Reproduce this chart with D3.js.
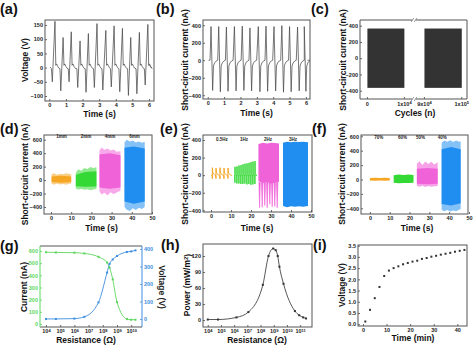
<!DOCTYPE html>
<html>
<head>
<meta charset="utf-8">
<script src="https://cdn.jsdelivr.net/npm/d3@7"></script>
<style>
body { margin: 0; background: #fff; }
svg { display: block; font-family: "Liberation Sans", Arial, sans-serif; }
</style>
</head>
<body>
<script>
// ---------- data ----------

// (a) open-circuit voltage: each cycle = negative spike then positive spike
var aNegT = [0.18, 0.69, 1.19, 1.71, 2.21, 2.71, 3.22, 3.73, 4.24, 4.76, 5.27, 5.77];
var aNegV = [-50, -82, -50, -70, -87, -70, -79, -68, -85, -98, -92, -61];
var aPosT = [0.34, 0.83, 1.32, 1.85, 2.35, 2.87, 3.40, 3.90, 4.40, 4.90, 5.42, 5.93];
var aPosV = [163, 106, 126, 94, 120, 155, 131, 147, 138, 106, 124, 152];

// (b) short-circuit current peaks
var bPosT = [0.20, 0.67, 1.14, 1.63, 2.11, 2.58, 3.09, 3.56, 4.05, 4.53, 5.00, 5.49, 5.90];
var bPosV = [385, 385, 380, 385, 390, 370, 385, 390, 385, 395, 385, 380, 385];
var bNegV = [-345, -360, -355, -350, -345, -350, -360, -355, -350, -365, -360, -350, -355];

// (c) stability test: current envelope over two cycle windows
var cWindow1 = [0, 1e4];
var cWindow2 = [9e4, 1e5];
var cEnvelope = [365, -365];
var cTickLabels = [["0", null], ["1x10", "4"], ["9x10", "4"], ["1x10", "5"]];

// (d) gap distance groups: [time, upper, lower]
var dLabels = ["1mm", "2mm", "4mm", "6mm"];
var d1Outer = [[0.3, 85, -55], [1.5, 100, -70], [3, 80, -50], [4.5, 95, -65], [6, 88, -58], [7.5, 100, -68], [9, 92, -55], [10, 85, -50]];
var d1Inner = [[0.3, 55, -30], [5, 65, -40], [10, 55, -30]];
var d2Outer = [[12.3, 110, -125], [13.5, 160, -140], [15, 140, -130], [16.5, 180, -145], [18, 165, -135], [19.5, 195, -150], [21, 180, -140], [22.5, 190, -130]];
var d2Inner = [[12.3, 80, -90], [17, 120, -100], [22.5, 130, -95]];
var d3Outer = [[24, 440, -170], [25, 485, -215], [26.5, 450, -190], [28, 470, -230], [29.5, 440, -180], [31, 455, -210], [32.5, 420, -185], [34.4, 430, -160]];
var d3Inner = [[24, 380, -110], [29, 400, -130], [34.4, 370, -110]];
var d4Outer = [[36.4, 560, -400], [37.5, 600, -440], [39, 575, -460], [40.5, 590, -420], [42, 560, -445], [43.5, 575, -410], [45, 555, -430], [46.4, 570, -400]];
var d4Inner = [[36.4, 480, -320], [41, 500, -350], [46.4, 470, -320]];

// (e) frequency groups
var eLabels = ["0.5Hz", "1Hz", "2Hz", "3Hz"];
var e05T = [0.7, 2.5, 4.5, 6.5, 8.5];
var e05Hi = [85, 80, 85, 80, 82];
var e05Lo = [-40, -38, -42, -40, -38];
var e1T = [12, 13, 14, 15, 16, 17, 18, 19, 20, 21, 22];
var e1Hi = [95, 100, 110, 115, 125, 130, 135, 140, 150, 155, 160];
var e1Lo = [-85, -95, -95, -100, -100, -95, -105, -100, -110, -105, -100];
var e2Outer = [[23.7, 355, -70], [26, 370, -90], [28, 360, -80], [30, 370, -95], [32, 365, -85], [34, 360, -75]];
var e2DownT = [24.3, 25.6, 26.9, 28.1, 29.4, 30.6, 31.9, 33.1];
var e2DownV = [-370, -365, -345, -370, -330, -360, -355, -372];
var e3Outer = [[36, 370, -350], [38, 380, -365], [40, 375, -355], [42, 380, -360], [44, 378, -355], [46, 380, -360], [48.5, 375, -350]];

// (f) humidity groups
var fLabels = ["70%", "60%", "50%", "40%"];
var f1Outer = [[0, 20, -15], [2.5, 24, -18], [5, 20, -14], [7.5, 25, -17], [10, 20, -15]];
var f2Outer = [[12, 60, -45], [14.5, 68, -52], [17, 62, -48], [19.5, 70, -50], [22, 62, -45]];
var f3Outer = [[23.7, 220, -90], [25, 255, -100], [26.5, 200, -85], [28, 250, -105], [29.5, 215, -90], [31, 245, -100], [32.5, 210, -95], [34.2, 240, -90]];
var f3Inner = [[23.7, 150, -60], [29, 160, -65], [34.2, 150, -60]];
var f4Outer = [[36.2, 510, -420], [37.5, 540, -440], [39, 525, -425], [40.5, 545, -445], [42, 520, -430], [43.5, 540, -440], [45, 525, -420], [45.8, 530, -410]];
var f4Inner = [[36.2, 420, -340], [41, 450, -360], [45.8, 420, -330]];

// (g) current / voltage vs load resistance
var gR = [1e4, 5e4, 1e6, 5e6, 5e7, 2e8, 3e8, 5e8, 1e9, 5e9, 1e10, 2e10];
var gCurrent = [590, 588, 586, 580, 552, 505, 463, 367, 180, 40, 35, 35];
var gVoltage = [0, 0, 2, 12, 95, 265, 315, 340, 360, 383, 386, 392];

// (h) power density vs load resistance
var hR = [1e4, 6e4, 1.5e6, 1.2e7, 1.5e8, 4e8, 9e8, 1.4e9, 2e9, 2.7e9, 5.5e9, 4e10, 8.5e10, 1.7e11, 2.8e11];
var hP = [1, 1, 5, 15, 66, 120, 134, 131, 120, 100, 68, 17, 9, 5, 3];

// (i) capacitor charging
var iTime = [1, 3, 5, 7, 9, 11, 13, 15, 17, 19, 21, 23, 25, 27, 29, 31, 33, 35, 37, 39, 41, 43];
var iVolt = [0.12, 0.64, 1.16, 1.66, 2.15, 2.39, 2.5, 2.58, 2.67, 2.73, 2.79, 2.83, 2.91, 2.95, 3.01, 3.05, 3.1, 3.14, 3.18, 3.23, 3.27, 3.31];

var orange = "#F5A623", green = "#35D935", pink = "#F062D8", blue = "#1F8EF0";
var gGreen = "#5CD65C", gBlue = "#3D8FE0";
var ink = "#4a4a4a";
var tickFont = "5.5px", titleFont = "8.5px";

// ---------- helpers ----------
var svg = d3.select("body").append("svg").attr("width", 474).attr("height", 347);

function makePanel(o) {
    var x = (o.log ? d3.scaleLog() : d3.scaleLinear()).domain(o.xd).range([o.x0, o.x1]);
    var y = d3.scaleLinear().domain(o.yd).range([o.y1, o.y0]);
    var id = "clip" + o.name;
    svg.append("clipPath").attr("id", id).append("rect")
        .attr("x", o.x0).attr("y", o.y0).attr("width", o.x1 - o.x0).attr("height", o.y1 - o.y0);
    var plot = svg.append("g").attr("clip-path", "url(#" + id + ")");
    return { x: x, y: y, plot: plot, o: o };
}

function styleAxis(sel, color) {
    sel.select(".domain").remove();
    sel.selectAll(".tick line").attr("stroke", color || "#444").attr("stroke-width", 0.8);
    sel.selectAll(".tick text").attr("fill", color || "#222")
        .style("font-size", tickFont).style("font-weight", "bold").style("font-family", "inherit");
}

function powLabels(sel) {
    sel.selectAll(".tick text").each(function (d) {
        var t = d3.select(this).text("");
        t.append("tspan").text("10");
        t.append("tspan").attr("dy", "-0.45em").style("font-size", "4px").text(Math.round(Math.log10(d)));
    });
}

// ticks point inward, like the Origin frames in the picture
function axes(p, xt, yt, opts) {
    opts = opts || {};
    var o = p.o;
    var gx = svg.append("g").attr("transform", "translate(0," + o.y1 + ")")
        .call(d3.axisBottom(p.x).tickValues(xt).tickSize(-2).tickPadding(2.5).tickFormat(opts.xfmt || d3.format("d")));
    styleAxis(gx);
    if (o.log) powLabels(gx);
    var gy = svg.append("g").attr("transform", "translate(" + o.x0 + ",0)")
        .call(d3.axisLeft(p.y).tickValues(yt).tickSize(-2).tickPadding(2).tickFormat(opts.yfmt || d3.format("d")));
    styleAxis(gy, opts.ycolor);
    return { gx: gx, gy: gy };
}

function frame(o, color) {
    svg.append("rect").attr("x", o.x0).attr("y", o.y0).attr("width", o.x1 - o.x0).attr("height", o.y1 - o.y0)
        .attr("fill", "none").attr("stroke", color || "#555").attr("stroke-width", 1);
}

function panelLabel(txt, x, y) {
    svg.append("text").attr("x", x).attr("y", y).text(txt)
        .style("font-size", "14.5px").style("font-weight", "bold").attr("fill", "#111");
}

function xTitle(txt, x, y) {
    return svg.append("text").attr("x", x).attr("y", y).attr("text-anchor", "middle").text(txt)
        .style("font-size", titleFont).style("font-weight", "bold").attr("fill", "#111");
}

function yTitle(txt, x, y, color, rot) {
    return svg.append("text").attr("transform", "translate(" + x + "," + y + ") rotate(" + (rot || -90) + ")")
        .attr("text-anchor", "middle").attr("dy", "0.35em").text(txt)
        .style("font-size", titleFont).style("font-weight", "bold").attr("fill", color || "#111");
}

function band(p, data, color, op) {
    var area = d3.area().x(function (d) { return p.x(d[0]); })
        .y0(function (d) { return p.y(d[2]); }).y1(function (d) { return p.y(d[1]); });
    p.plot.append("path").datum(data).attr("d", area).attr("fill", color).attr("opacity", op);
}

function groupLabels(p, labels, times, yv) {
    labels.forEach(function (l, i) {
        svg.append("text").attr("x", p.x(times[i])).attr("y", p.y(yv)).attr("text-anchor", "middle").text(l)
            .style("font-size", "4.5px").style("font-weight", "bold").attr("fill", "#222");
    });
}

var line = function (p) {
    return d3.line().x(function (d) { return p.x(d[0]); }).y(function (d) { return p.y(d[1]); });
};

// ---------- (a) ----------
var pa = makePanel({ name: "a", x0: 45, x1: 154, y0: 20, y1: 101, xd: [-0.26, 6.3], yd: [-117.6, 167.6] });
var aPts = [[0.04, 2]];
aPosT.forEach(function (t, i) {
    aPts.push([aNegT[i] - 0.05, -4], [aNegT[i], aNegV[i]], [t, aPosV[i]], [t + 0.05, 8], [t + 0.1, 13], [t + 0.17, 4], [t + 0.25, -3]);
});
aPts.push([6.02, 8]);
pa.plot.append("path").datum(aPts).attr("d", line(pa)).attr("fill", "none").attr("stroke", ink).attr("stroke-width", 0.75);
axes(pa, [0, 1, 2, 3, 4, 5, 6], [-100, -50, 0, 50, 100, 150]);
frame(pa.o);
panelLabel("(a)", 0, 14);
yTitle("Voltage (V)", 25.5, 60);
xTitle("Time (s)", 99.5, 117);

// ---------- (b) ----------
var pb = makePanel({ name: "b", x0: 203, x1: 310, y0: 20, y1: 99, xd: [-0.29, 6.25], yd: [-443, 460] });
var bPts = [[0.05, 0], [0.14, 0]];
bPosT.forEach(function (t, i) {
    bPts.push([t, bPosV[i]], [t + 0.1, bNegV[i]], [t + 0.15, -65], [t + 0.22, -30], [t + 0.32, -8], [t + 0.41, 0]);
});
bPts.push([6.1, 0]);
pb.plot.append("path").datum(bPts).attr("d", line(pb)).attr("fill", "none").attr("stroke", ink).attr("stroke-width", 0.75);
axes(pb, [0, 1, 2, 3, 4, 5, 6], [-400, -200, 0, 200, 400]);
frame(pb.o);
panelLabel("(b)", 156, 14);
yTitle("Short-circuit current (nA)", 185, 60);
xTitle("Time (s)", 256.5, 116);

// ---------- (c) broken axis ----------
var co = { x0: 360, x1: 467, y0: 20, y1: 99, xbreak: 414 };
var cy = d3.scaleLinear().domain([-502, 470]).range([co.y1, co.y0]);
var cx1 = d3.scaleLinear().domain([-0.2e4, 1.26e4]).range([co.x0, co.xbreak]);
var cx2 = d3.scaleLinear().domain([8.72e4, 10.14e4]).range([co.xbreak, co.x1]);
[[cx1, cWindow1], [cx2, cWindow2]].forEach(function (s) {
    svg.append("rect").attr("x", s[0](s[1][0])).attr("width", s[0](s[1][1]) - s[0](s[1][0]))
        .attr("y", cy(cEnvelope[0])).attr("height", cy(cEnvelope[1]) - cy(cEnvelope[0]))
        .attr("fill", "#333");
});
var cgy = svg.append("g").attr("transform", "translate(" + co.x0 + ",0)")
    .call(d3.axisLeft(cy).tickValues([-400, -200, 0, 200, 400]).tickSize(-2).tickPadding(2));
styleAxis(cgy);
var cTickX = [cx1(0), cx1(1e4), cx2(9e4), cx2(1e5)];
cTickX.forEach(function (px, i) {
    svg.append("line").attr("x1", px).attr("x2", px).attr("y1", co.y1).attr("y2", co.y1 - 2).attr("stroke", "#444").attr("stroke-width", 0.8);
    var t = svg.append("text").attr("x", px).attr("y", co.y1 + 6.5).attr("text-anchor", "middle")
        .style("font-size", tickFont).style("font-weight", "bold").attr("fill", "#222");
    t.append("tspan").text(cTickLabels[i][0]);
    if (cTickLabels[i][1]) t.append("tspan").attr("dy", "-0.45em").style("font-size", "4px").text(cTickLabels[i][1]);
});
// frame with a gap at the break
[[co.x0, co.xbreak - 2], [co.xbreak + 2, co.x1]].forEach(function (s) {
    svg.append("path").attr("d", "M" + s[0] + "," + co.y0 + "H" + s[1] + "M" + s[0] + "," + co.y1 + "H" + s[1])
        .attr("stroke", "#555").attr("stroke-width", 1);
});
svg.append("path").attr("d", "M" + co.x0 + "," + co.y0 + "V" + co.y1 + "M" + co.x1 + "," + co.y0 + "V" + co.y1)
    .attr("stroke", "#555").attr("stroke-width", 1);
[co.y0, co.y1].forEach(function (yy) {
    [-1.5, 1.5].forEach(function (dx) {
        svg.append("line").attr("x1", co.xbreak + dx - 1.2).attr("x2", co.xbreak + dx + 1.2)
            .attr("y1", yy + 1.8).attr("y2", yy - 1.8).attr("stroke", "#555").attr("stroke-width", 0.7);
    });
});
panelLabel("(c)", 311, 14);
yTitle("Short-circuit current (nA)", 343, 60);
xTitle("Cycles (n)", 415, 116);

// ---------- (d) ----------
var pd = makePanel({ name: "d", x0: 44, x1: 152, y0: 135, y1: 214, xd: [-3.45, 50], yd: [-504, 670] });
[[d1Outer, d1Inner, orange], [d2Outer, d2Inner, green], [d3Outer, d3Inner, pink], [d4Outer, d4Inner, blue]].forEach(function (g) {
    band(pd, g[0], g[2], 0.55);
    band(pd, g[1], g[2], 1);
});
axes(pd, [0, 10, 20, 30, 40, 50], [-400, -200, 0, 200, 400, 600]);
frame(pd.o);
groupLabels(pd, dLabels, [5.2, 17.4, 29.2, 41.4], 620);
panelLabel("(d)", 0, 134);
yTitle("Short-circuit current (nA)", 25, 174.5);
xTitle("Time (s)", 101.5, 231);

// ---------- (e) ----------
var pe = makePanel({ name: "e", x0: 203, x1: 312, y0: 135, y1: 212, xd: [-4, 50.5], yd: [-419, 457] });
var e05Pts = [[0.1, 0]];
e05T.forEach(function (t, i) {
    e05Pts.push([t - 0.1, -5], [t - 0.03, e05Lo[i]], [t, e05Hi[i]], [t + 0.2, 25], [t + 1.1, 5], [t + 1.8, -3]);
});
e05Pts.push([10, 0]);
pe.plot.append("path").datum(e05Pts).attr("d", line(pe)).attr("fill", "none").attr("stroke", orange).attr("stroke-width", 1);
var e1Pts = [[11.7, 0]];
e1T.forEach(function (t, i) {
    e1Pts.push([t - 0.1, 0], [t - 0.04, e1Lo[i]], [t, e1Hi[i]], [t + 0.08, 15], [t + 0.5, 5], [t + 0.8, -10]);
});
pe.plot.append("path").datum(e1Pts).attr("d", line(pe)).attr("fill", "none").attr("stroke", green).attr("stroke-width", 1);
band(pe, e2Outer, pink, 1);
e2DownT.forEach(function (t, i) {
    pe.plot.append("path").datum([[t - 0.35, -80], [t, e2DownV[i]], [t + 0.35, -80]])
        .attr("d", line(pe)).attr("fill", pink).attr("stroke", pink).attr("stroke-width", 0.6);
});
band(pe, e3Outer, blue, 1);
axes(pe, [0, 10, 20, 30, 40, 50], [-400, -200, 0, 200, 400]);
frame(pe.o);
groupLabels(pe, eLabels, [5.5, 16.5, 28.5, 41], 390);
panelLabel("(e)", 160, 134);
yTitle("Short-circuit current (nA)", 185, 174);
xTitle("Time (s)", 257, 231);

// ---------- (f) ----------
var pf = makePanel({ name: "f", x0: 361, x1: 468, y0: 135, y1: 214, xd: [-4.5, 49.5], yd: [-479, 618] });
band(pf, f1Outer, orange, 1);
band(pf, f2Outer, green, 1);
band(pf, f3Outer, pink, 0.6);
band(pf, f3Inner, pink, 1);
band(pf, f4Outer, blue, 0.55);
band(pf, f4Inner, blue, 1);
axes(pf, [0, 10, 20, 30, 40, 50], [-400, -200, 0, 200, 400, 600]);
frame(pf.o);
groupLabels(pf, fLabels, [4.5, 16.5, 25.5, 36.5], 560);
panelLabel("(f)", 312, 134);
yTitle("Short-circuit current (nA)", 342, 174);
xTitle("Time (s)", 417, 231);

// ---------- (g) ----------
var pg = makePanel({ name: "g", x0: 40, x1: 142, y0: 246, y1: 327, xd: [Math.pow(10, 3.58), Math.pow(10, 10.76)], yd: [-25, 641], log: true });
var gyR = d3.scaleLinear().domain([-46, 417]).range([pg.o.y1, pg.o.y0]);
var gCurPts = gR.map(function (r, i) { return [r, gCurrent[i]]; });
var gVolPts = gR.map(function (r, i) { return [r, gVoltage[i]]; });
var gLineC = d3.line().x(function (d) { return pg.x(d[0]); }).y(function (d) { return pg.y(d[1]); }).curve(d3.curveMonotoneX);
var gLineV = d3.line().x(function (d) { return pg.x(d[0]); }).y(function (d) { return gyR(d[1]); }).curve(d3.curveMonotoneX);
pg.plot.append("path").datum(gCurPts).attr("d", gLineC).attr("fill", "none").attr("stroke", gGreen).attr("stroke-width", 0.9);
pg.plot.append("path").datum(gVolPts).attr("d", gLineV).attr("fill", "none").attr("stroke", gBlue).attr("stroke-width", 0.9);
pg.plot.selectAll(".gc").data(gCurPts).enter().append("rect")
    .attr("x", function (d) { return pg.x(d[0]) - 1; }).attr("y", function (d) { return pg.y(d[1]) - 1; })
    .attr("width", 2).attr("height", 2).attr("fill", gGreen);
pg.plot.selectAll(".gv").data(gVolPts).enter().append("rect")
    .attr("x", function (d) { return pg.x(d[0]) - 1; }).attr("y", function (d) { return gyR(d[1]) - 1; })
    .attr("width", 2).attr("height", 2).attr("fill", gBlue);
axes(pg, [1e4, 1e5, 1e6, 1e7, 1e8, 1e9, 1e10], [0, 100, 200, 300, 400, 500, 600], { ycolor: gGreen });
var gyr = svg.append("g").attr("transform", "translate(" + pg.o.x1 + ",0)")
    .call(d3.axisRight(gyR).tickValues([0, 100, 200, 300, 400]).tickSize(-2).tickPadding(2));
styleAxis(gyr, gBlue);
svg.append("path").attr("d", "M40,246H142M40,327H142").attr("stroke", "#555").attr("stroke-width", 1);
svg.append("path").attr("d", "M40,246V327").attr("stroke", gGreen).attr("stroke-width", 1);
svg.append("path").attr("d", "M142,246V327").attr("stroke", gBlue).attr("stroke-width", 1);
panelLabel("(g)", 0, 251);
yTitle("Current (nA)", 24.5, 287);
yTitle("Voltage (V)", 162, 287, "#222", 90);
xTitle("Resistance (\u03A9)", 86, 343);

// ---------- (h) ----------
var ph = makePanel({ name: "h", x0: 203, x1: 312, y0: 244, y1: 327, xd: [Math.pow(10, 3.64), Math.pow(10, 11.9)], yd: [-13, 142.5], log: true });
var hPts = hR.map(function (r, i) { return [r, hP[i]]; });
ph.plot.append("path").datum(hPts)
    .attr("d", d3.line().x(function (d) { return ph.x(d[0]); }).y(function (d) { return ph.y(d[1]); }).curve(d3.curveMonotoneX))
    .attr("fill", "none").attr("stroke", "#444").attr("stroke-width", 0.9);
ph.plot.selectAll(".hp").data(hPts).enter().append("rect")
    .attr("x", function (d) { return ph.x(d[0]) - 1; }).attr("y", function (d) { return ph.y(d[1]) - 1; })
    .attr("width", 2).attr("height", 2).attr("fill", "#333");
axes(ph, [1e4, 1e5, 1e6, 1e7, 1e8, 1e9, 1e10, 1e11], [0, 30, 60, 90, 120]);
frame(ph.o);
panelLabel("(h)", 161, 250);
var ht = yTitle("", 187, 285);
ht.append("tspan").text("Power (mW/m");
ht.append("tspan").attr("dy", "-0.4em").style("font-size", "6px").text("2");
ht.append("tspan").attr("dy", "0.4em").text(")");
xTitle("Resistance (\u03A9)", 257, 343);

// ---------- (i) ----------
var pi = makePanel({ name: "i", x0: 358, x1: 467, y0: 245, y1: 326, xd: [-2.1, 44.1], yd: [-0.08, 3.53] });
var iPts = iTime.map(function (t, k) { return [t, iVolt[k]]; });
pi.plot.selectAll(".ip").data(iPts).enter().append("rect")
    .attr("x", function (d) { return pi.x(d[0]) - 1; }).attr("y", function (d) { return pi.y(d[1]) - 1; })
    .attr("width", 2).attr("height", 2).attr("fill", "#333");
axes(pi, [0, 10, 20, 30, 40], [0, 0.5, 1, 1.5, 2, 2.5, 3, 3.5], { yfmt: d3.format(".1f") });
frame(pi.o);
panelLabel("(i)", 313, 250);
yTitle("Voltage (V)", 342, 285);
xTitle("Time (min)", 413, 341);
</script>
</body>
</html>
